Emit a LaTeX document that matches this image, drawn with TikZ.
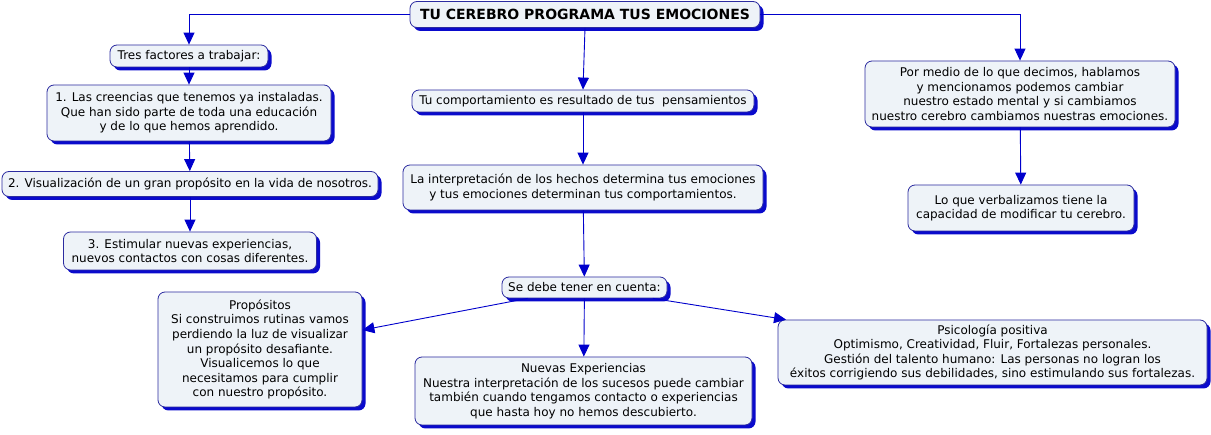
\documentclass[tikz,border=0pt]{standalone}
\usepackage{fontspec}
\setmainfont{DejaVu Sans}
\usetikzlibrary{arrows.meta,shadows}
\definecolor{boxfill}{HTML}{EEF3F8}
\definecolor{boxdraw}{HTML}{2B2BA0}
\definecolor{shadowc}{HTML}{0A0ACC}
\definecolor{arrowc}{HTML}{0000CC}
\begin{document}
\begin{tikzpicture}[x=1pt,y=-1pt,
 concept/.style={draw=boxdraw, line width=0.8pt, fill=boxfill, rounded corners=7pt, align=center, inner sep=0pt,
   font=\fontsize{12}{14.6}\selectfont,
   drop shadow={shadow xshift=3.5pt, shadow yshift=-3.5pt, fill=shadowc, opacity=1}},
 link/.style={draw=arrowc, line width=0.9pt, -{Triangle[width=11pt,length=12pt]}}]
\useasboundingbox[fill=white] (0,0) rectangle (1211,435);

\node[concept, minimum width=350pt, minimum height=26pt, font=\bfseries\fontsize{14}{16}\selectfont] (title) at (585,14.5) {TU CEREBRO PROGRAMA TUS EMOCIONES};

\node[concept, minimum width=158pt, minimum height=22pt] (tres) at (189,56) {Tres factores a trabajar:};
\node[concept, minimum width=284pt, minimum height=56pt] (b1) at (189,113) {1. Las creencias que tenemos ya instaladas.\\Que han sido parte de toda una educación\\y de lo que hemos aprendido.};
\node[concept, minimum width=376pt, minimum height=25pt] (b2) at (190,184) {2. Visualización de un gran propósito en la vida de nosotros.};
\node[concept, minimum width=253pt, minimum height=38pt] (b3) at (190,251) {3. Estimular nuevas experiencias,\\nuevos contactos con cosas diferentes.};

\node[concept, minimum width=342pt, minimum height=22pt] (tu) at (583,101) {Tu comportamiento es resultado de tus\ \ pensamientos};
\node[concept, minimum width=360pt, minimum height=45pt] (la) at (583,187.5) {La interpretación de los hechos determina tus emociones\\y tus emociones determinan tus comportamientos.};
\node[concept, minimum width=165pt, minimum height=21pt] (se) at (584.5,287.5) {Se debe tener en cuenta:};

\node[concept, minimum width=204pt, minimum height=115pt] (prop) at (260,349.5) {Propósitos\\Si construimos rutinas vamos\\perdiendo la luz de visualizar\\un propósito desafiante.\\Visualicemos lo que\\necesitamos para cumplir\\con nuestro propósito.};
\node[concept, minimum width=337pt, minimum height=68pt] (nue) at (583.5,391) {Nuevas Experiencias\\Nuestra interpretación de los sucesos puede cambiar\\también cuando tengamos contacto o experiencias\\que hasta hoy no hemos descubierto.};
\node[concept, minimum width=429pt, minimum height=65pt] (psi) at (992.5,352.5) {Psicología positiva\\Optimismo, Creatividad, Fluir, Fortalezas personales.\\Gestión del talento humano: Las personas no logran los\\éxitos corrigiendo sus debilidades, sino estimulando sus fortalezas.};

\node[concept, minimum width=310pt, minimum height=66pt] (por) at (1020,94) {Por medio de lo que decimos, hablamos\\y mencionamos podemos cambiar\\nuestro estado mental y si cambiamos\\nuestro cerebro cambiamos nuestras emociones.};
\node[concept, minimum width=226pt, minimum height=46pt] (lo) at (1021,208) {Lo que verbalizamos tiene la\\capacidad de modificar tu cerebro.};

\draw[link] (title.west) -| (tres.north);
\draw[link] (title.east) -| (por.north);
\draw[link] (title.south) -- (tu.north);
\draw[link] (tres) -- (b1);
\draw[link] (b1) -- (b2);
\draw[link] (b2) -- (b3);
\draw[link] (tu) -- (la);
\draw[link] (la) -- (se);
\draw[link] (se) -- (prop);
\draw[link] (se) -- (nue);
\draw[link] (se) -- (psi);
\draw[link] (por) -- (lo);
\end{tikzpicture}
\end{document}
